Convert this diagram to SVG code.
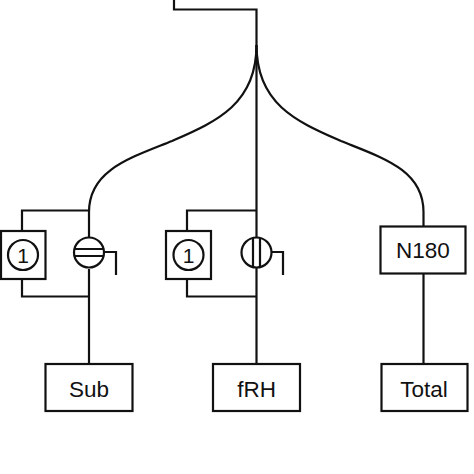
<svg xmlns="http://www.w3.org/2000/svg" width="474" height="474" viewBox="0 0 474 474">
<style>
.l{fill:none;stroke:#111;stroke-width:2.2}
.b{fill:#fff;stroke:#111;stroke-width:2.2}
text{font-family:"Liberation Sans",Arial,sans-serif;fill:#111;text-anchor:middle}
.t{font-size:21px}
.n{font-size:22.500px}
</style>
<g id="connectors" class="l">
<path d="M174 -2V9.500H256.500V364"/>
<path d="M256.500 45C256.500 105 215 122 172 141C130 158 89 170 89 212V237M89 269V364"/>
<path d="M256.500 45C256.500 105 298 122 341 141C383 158 423.500 170 423.500 212V226M423.500 274V364"/>
<path d="M89 210.500H22V231M22 279V296.500H89"/>
<path d="M256.500 210.500H187V231M187 279V296.500H256.500"/>
<path d="M104 252H116V275"/>
<path d="M272 252H283V275"/>
</g>
<g id="gate1"><rect class="b" x="1" y="231" width="44.500" height="48"/><circle class="b" cx="23" cy="255" r="15"/><text class="t" x="23" y="262.500">1</text></g>
<g id="gate2"><rect class="b" x="166" y="231" width="45" height="48"/><circle class="b" cx="188.500" cy="255" r="15"/><text class="t" x="188.500" y="262.500">1</text></g>
<g id="sw1"><circle class="b" cx="89" cy="252.500" r="15"/><path class="l" d="M74 249H104M74 256H104"/></g>
<g id="sw2"><circle class="b" cx="256.500" cy="252.500" r="15"/><path class="l" d="M253 238V267M260 238V267"/></g>
<g id="n180"><rect class="b" x="380.500" y="226.500" width="85" height="47"/><text class="n" x="423" y="258">N180</text></g>
<g id="sub"><rect class="b" x="45.500" y="364" width="87" height="47"/><text class="n" x="89" y="396.500">Sub</text></g>
<g id="frh"><rect class="b" x="213" y="364" width="87" height="47"/><text class="n" x="256.500" y="396.500">fRH</text></g>
<g id="total"><rect class="b" x="381.500" y="364" width="86" height="47"/><text class="n" x="424" y="396.500">Total</text></g>
</svg>
